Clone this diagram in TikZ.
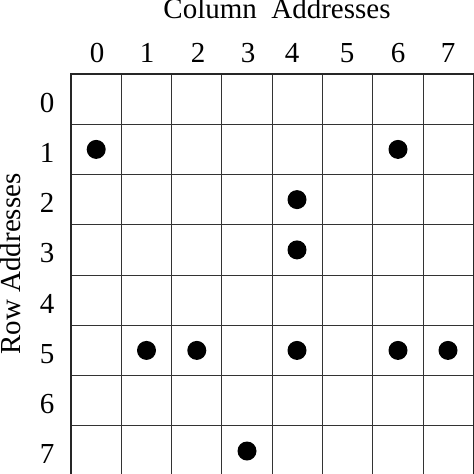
\documentclass[tikz,border=0pt]{standalone}
\usepackage{fontspec}
\setmainfont{Liberation Serif}
\begin{document}
\begin{tikzpicture}[x=1pt,y=-1pt,
  lbl/.style={inner sep=0pt,anchor=base,font=\fontsize{29}{29}\selectfont},
  dotmark/.style={circle,fill=black,inner sep=0pt,minimum size=19pt},
  gridline/.style={line width=0.9pt,black!80},
  border/.style={line width=1.8pt,black!85}]
\useasboundingbox (0,0) rectangle (474,474);
\clip (0,0) rectangle (474,474);
\fill[white] (0,0) rectangle (474,474);
% grid
\foreach \i in {1,...,7} {
  \draw[gridline] ({71+50.3*\i},74) -- ({71+50.3*\i},480);
  \draw[gridline] (71,{74+50.25*\i}) -- (480,{74+50.25*\i});
}
\draw[border] (71,480) -- (71,74) -- (473.4,74) -- (473.4,480);
% titles
\node[lbl] (coltitle) at (277,18) {Column\ \ Addresses};
\node[lbl,rotate=90] (rowtitle) at (20,264) {Row Addresses};
% column numbers
\node[lbl] (c0) at (97,62.3) {0};
\node[lbl] (c1) at (147,62.3) {1};
\node[lbl] (c2) at (198,62.3) {2};
\node[lbl] (c3) at (248,62.3) {3};
\node[lbl] (c4) at (292,62.3) {4};
\node[lbl] (c5) at (347,62.3) {5};
\node[lbl] (c6) at (398,62.3) {6};
\node[lbl] (c7) at (448,62.3) {7};
% row numbers
\foreach \r in {0,...,7} {
  \node[lbl] (r\r) at (47,{112+50.25*\r}) {\r};
}
% dots
\node[dotmark] (d10) at (96.2,149.4) {};
\node[dotmark] (d16) at (398,149.4) {};
\node[dotmark] (d24) at (297,199.6) {};
\node[dotmark] (d34) at (297,249.9) {};
\node[dotmark] (d51) at (146.5,350.4) {};
\node[dotmark] (d52) at (196.8,350.4) {};
\node[dotmark] (d54) at (297,350.4) {};
\node[dotmark] (d56) at (398,350.4) {};
\node[dotmark] (d57) at (448,350.4) {};
\node[dotmark] (d73) at (247,451) {};
\end{tikzpicture}
\end{document}
